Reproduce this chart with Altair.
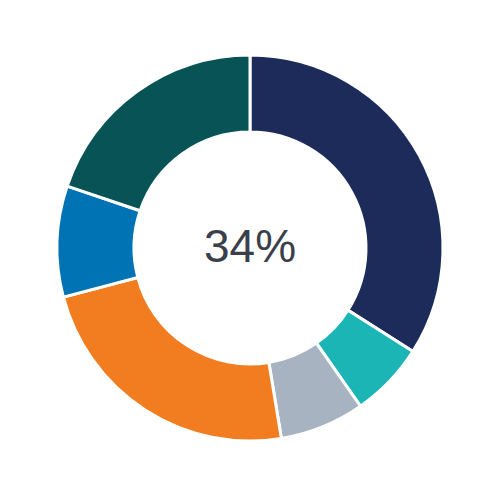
import altair as alt
import pandas as pd

categories = ["A", "B", "C", "D", "E", "F"]
values = [34, 6.3, 7.1, 23.5, 9.3, 19.8]
colors = ["#1c2b59", "#1bb5b5", "#a8b3c1", "#f27d20", "#0073b5", "#075355"]
center_label = "34%"

df = pd.DataFrame({"cat": categories, "value": values, "order": list(range(len(values)))})

base = alt.Chart(df)
arcs = base.mark_arc(innerRadius=116, outerRadius=193, stroke="white", strokeWidth=3).encode(
    theta=alt.Theta("value:Q", stack=True),
    color=alt.Color("cat:N", scale=alt.Scale(domain=categories, range=colors), legend=None),
    order=alt.Order("order:Q"),
)
text = alt.Chart(pd.DataFrame({"t": [center_label]})).mark_text(
    fontSize=46, font="Liberation Sans", color="#3a3f4a", baseline="middle", align="center"
).encode(text="t:N", x=alt.value(242), y=alt.value(240))

chart = (arcs + text).properties(
    width=484, height=480, autosize=alt.AutoSizeParams(type="fit", contains="padding"), padding=0
).configure_view(stroke=None)

chart.save("out.html", embed_options={"renderer": "svg", "actions": False})
